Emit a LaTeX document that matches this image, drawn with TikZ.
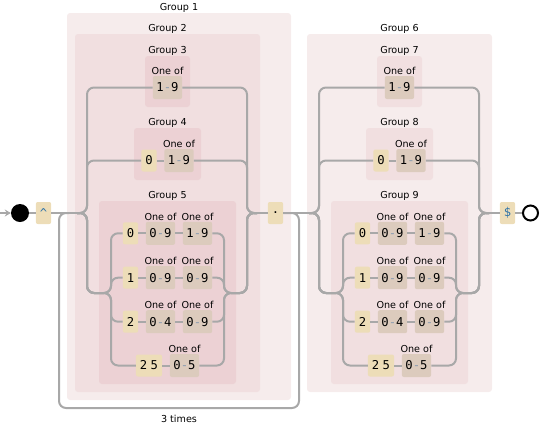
\documentclass[tikz,border=0pt]{standalone}
\usepackage{fontspec}
\setmainfont{DejaVu Sans}
\setmonofont{DejaVu Sans Mono}
\usetikzlibrary{arrows.meta}
\definecolor{grpA}{HTML}{F6ECEC}
\definecolor{grpB}{HTML}{F1DFE0}
\definecolor{grpC}{HTML}{ECD1D4}
\definecolor{litfill}{HTML}{EDDDB8}
\definecolor{setfill}{HTML}{DCCBBD}
\definecolor{wiregray}{HTML}{A8A8A8}
\definecolor{dashblue}{HTML}{8A9BB0}
\definecolor{anchorblue}{HTML}{2F73A8}
\newcommand{\rng}[2]{#1\textcolor{dashblue}{-}#2}

\begin{document}
\begin{tikzpicture}[x=1pt, y=-1pt,
  lbl/.style={font=\fontsize{9.6}{11}\selectfont},
  grp/.style={rounded corners=3pt, inner sep=0, label={[lbl, inner sep=0.5pt]above:#1}},
  lit/.style={fill=litfill, rounded corners=2pt, inner xsep=4pt, inner ysep=0, minimum height=22, font=\fontsize{12.2}{14}\ttfamily},
  cset/.style={lit, fill=setfill, inner xsep=3.6pt, minimum height=23, label={[lbl, inner sep=1pt]above:One of}},
  wire/.style={draw=wiregray, line width=2pt, rounded corners=7pt}]
\useasboundingbox (0,0) rectangle (540,426);

% Outer group with the repeat
\node[grp=Group 1, fill=grpA, minimum width=224, minimum height=387] (group1) at (179,206.5) {};

% Two copies of the octet alternation
\foreach \g/\dx/\na/\nb/\nc/\nd/\ca/\cb in {L/0/2/3/4/5/grpB/grpC, R/232/6/7/8/9/grpA/grpB}{
\begin{scope}[xshift=\dx]
% Groups
\node[grp=Group \na, fill=\ca, minimum width=185, minimum height=358] (group\na) at (167.5,213) {};
\node[grp=Group \nb, fill=\cb, minimum width=45, minimum height=51] (group\nb) at (167.5,81.5) {};
\node[grp=Group \nc, fill=\cb, minimum width=67, minimum height=52] (group\nc) at (167.5,154) {};
\node[grp=Group \nd, fill=\cb, minimum width=137, minimum height=183] (group\nd) at (167.5,292.5) {};
% Items
\node[cset] (\g-top) at (167.5,87.5) {\rng19};
\node[lit] (\g-zero) at (149,160.5) {0};
\node[cset] (\g-nz) at (179,160.5) {\rng19};
\node[lit] (\g-r1a) at (130.5,233.3) {0};
\node[cset] (\g-r1b) at (160.5,233.3) {\rng09};
\node[cset] (\g-r1c) at (197.5,233.3) {\rng19};
\node[lit] (\g-r2a) at (130.5,277.7) {1};
\node[cset] (\g-r2b) at (160.5,277.7) {\rng09};
\node[cset] (\g-r2c) at (197.5,277.7) {\rng09};
\node[lit] (\g-r3a) at (130.5,321.7) {2};
\node[cset] (\g-r3b) at (160.5,321.7) {\rng04};
\node[cset] (\g-r3c) at (197.5,321.7) {\rng09};
\node[lit] (\g-r4a) at (149,365.5) {2\kern3.4pt 5};
\node[cset] (\g-r4b) at (184.5,365.5) {\rng05};
% Junctions
\coordinate (\g-in0) at (77,213);
\coordinate (\g-in) at (87,213);
\coordinate (\g-out) at (247,213);
\coordinate (\g-out0) at (257,213);
\coordinate (\g-split) at (111,293);
\coordinate (\g-merge) at (224,293);
% Wires
\draw[wire] (\g-in0) -- (\g-in) |- (\g-top.west);
\draw[wire] (\g-top.east) -| (\g-out) -- (\g-out0);
\draw[wire] (\g-in0) -- (\g-in) |- (\g-zero.west);
\draw[wire] (\g-zero.east) -- (\g-nz.west);
\draw[wire] (\g-nz.east) -| (\g-out) -- (\g-out0);
\foreach \row/\last in {1/c,2/c,3/c,4/b}{
  \draw[wire] (\g-in0) -- (\g-in) |- (\g-split) |- (\g-r\row a.west);
  \draw[wire] (\g-r\row a.east) -- (\g-r\row b.west);
  \draw[wire] (\g-r\row\last.east) -| (\g-merge) -| (\g-out) -- (\g-out0);
}
\foreach \row in {1,2,3}
  \draw[wire] (\g-r\row b.east) -- (\g-r\row c.west);
\end{scope}
}

% Anchors and terminals
\coordinate (entry) at (0,213);
\node[circle, fill=black, inner sep=0, minimum size=18] (start) at (20,213) {};
\node[lit, text=anchorblue] (hat) at (43.5,213) {\textasciicircum};
\node[lit] (dot) at (275.5,213) {.};
\node[lit, text=anchorblue] (dollar) at (507.5,213) {\$};
\node[circle, draw=black, line width=2pt, inner sep=0, minimum size=15] (finish) at (530.5,213) {};

% Main line
\draw[wire, -{Stealth[length=6pt, width=7pt]}] (entry) -- (start.west);
\draw[wire] (start.east) -- (hat.west);
\draw[wire] (hat.east) -- (L-in0);
\draw[wire] (L-out0) -- (dot.west);
\draw[wire] (dot.east) -- (R-in0);
\draw[wire] (R-out0) -- (dollar.west);
\draw[wire] (dollar.east) -- (finish.west);

% Repeat loop
\coordinate (loopR) at (299,213);
\coordinate (loopBL) at (59,408);
\coordinate (loopL) at (59,213);
\coordinate (loopL0) at (69,213);
\draw[wire] (dot.east) -- (loopR) |- (loopBL) -- (loopL) -- (loopL0);
\node[lbl] (times) at (179,418.7) {3 times};
\end{tikzpicture}
\end{document}
